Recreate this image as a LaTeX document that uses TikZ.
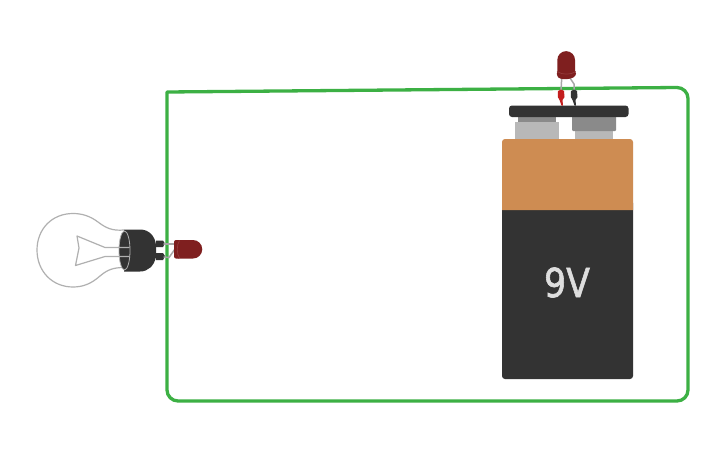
\documentclass[tikz,border=0pt]{standalone}
\usepackage{fontspec}
\setmainfont{DejaVu Sans}
\newfontfamily\ninevfont[FakeBold=1.6]{DejaVu Sans}
\definecolor{wiregreen}{HTML}{3CB044}
\definecolor{copper}{HTML}{CE8C52}
\definecolor{batdark}{HTML}{333333}
\definecolor{termdark}{HTML}{8A8A8A}
\definecolor{termlight}{HTML}{B8B8B8}
\definecolor{ledred}{HTML}{7F1F1F}
\definecolor{ledrim}{HTML}{933A3A}
\definecolor{clipred}{HTML}{C41E1E}
\definecolor{legs}{HTML}{A6A6A6}
\definecolor{glass}{HTML}{B0B0B0}
\tikzset{
  wire/.style={draw=wiregreen,line width=3.3pt,line join=round},
  leg/.style={draw=legs,line width=1.5pt,line cap=round},
  bulbline/.style={draw=glass,line width=1.2pt,line join=round},
  label9v/.style={text=white!87!black,font=\ninevfont\fontsize{40}{40}\selectfont,inner sep=0pt,xscale=.87}
}
\begin{document}
\begin{tikzpicture}[x=1pt,y=-1pt]
\useasboundingbox (0,0) rectangle (725,453);
\fill[white] (0,0) rectangle (725,453);
% wire
\draw[wire] (167,92) -- (677,87.5) arc[start angle=-90,end angle=0,radius=11] -- (688,390)
  arc[start angle=0,end angle=90,radius=11] -- (178,401)
  arc[start angle=90,end angle=180,radius=11] -- cycle;
% battery terminals
\fill[termlight] (515,122) rectangle (559,141);
\fill[termdark] (518,116) rectangle (556,122);
\fill[termlight] (575,130) rectangle (613,141);
\fill[termdark,rounded corners=1pt] (572,116) rectangle (616,131);
\fill[batdark,rounded corners=3pt] (509,105.5) rectangle (628.5,117);
% battery body
\fill[batdark,rounded corners=3pt] (502,200) rectangle (633,379);
\fill[copper,rounded corners=3pt] (502,210) [sharp corners] -- (502,210) [rounded corners=3pt] -- (502,139) -- (633,139) [sharp corners] -- (633,210) -- cycle;
\node[label9v] (volt) at (567,282.5) {9V};
% top LED
\draw[leg] (561.7,78) -- (561,91);
\draw[leg] (570,78) -- (574,84) -- (574,91);
\fill[clipred] (561,89.5) -- (564,91) -- (564.5,97) -- (562.5,100) -- (563,105.5) -- (561.5,105.5) -- (559.5,100) -- (557.8,97) -- (558,91) -- cycle;
\fill[batdark] (574,89.5) -- (577,91) -- (577.5,97) -- (575.5,100) -- (576,105.5) -- (574.5,105.5) -- (572.5,100) -- (570.8,97) -- (571,91) -- cycle;
\fill[ledred] (557.3,72) -- (557.3,60) arc[start angle=180,end angle=360,radius=8.85] -- (575,72) -- cycle;
\fill[ledred,rounded corners=2.5pt] (556.8,71) -- (576,71) -- (576,76) -- (570,79) -- (560,79) -- (556.8,76) -- cycle;
\draw[ledrim,line width=.7pt] (557,71.5) .. controls (562,75) and (571,75) .. (575.8,71.5);
% bulb glass
\draw[bulbline] (124,230) .. controls (112,231) and (106,228) .. (98,222)
  .. controls (90,216) and (82,213.5) .. (73,213.5)
  .. controls (52,213.5) and (37,229) .. (37,250)
  .. controls (37,271) and (52,287) .. (73,287)
  .. controls (84,287) and (92,283) .. (100,276)
  .. controls (107,270) and (113,267.5) .. (124,267.5);
% socket
\fill[batdark] (124,229.5) -- (140,229.5) .. controls (149,229.5) and (155,236) .. (156,245) -- (156,257)
  .. controls (154,266) and (148,271.5) .. (140,271.5) -- (124,271.5) -- cycle;
\fill[batdark,draw=glass,line width=.8pt] (124.5,250.5) ellipse[x radius=5.5,y radius=19.5];
\fill[batdark] (156,240.5) -- (163,240.5) -- (165,243.5) -- (163,247) -- (156,247) -- cycle;
\fill[batdark] (156,253) -- (163,253) -- (165,256) -- (163,260) -- (156,260) -- cycle;
% filament
\draw[bulbline] (129.5,247.5) -- (105,247.5) -- (77,236) -- (79,248) -- (75.5,265.5) -- (105,256.5) -- (129.5,256.5);
% side LED
\draw[leg] (164,244) -- (175,244);
\draw[leg] (164,257) -- (169,257.5) -- (175,249);
\fill[ledred,rounded corners=2pt] (174,240) -- (180,240) -- (180,258.5) -- (174,258.5) -- (174,254) -- cycle;
\fill[ledred] (178,240) -- (193,240) arc[start angle=-90,end angle=90,radius=9.25] -- (178,258.5) -- cycle;
\draw[ledrim,line width=.7pt] (179.5,240.5) .. controls (176.5,245) and (176.5,254) .. (179.5,258);
\end{tikzpicture}
\end{document}
